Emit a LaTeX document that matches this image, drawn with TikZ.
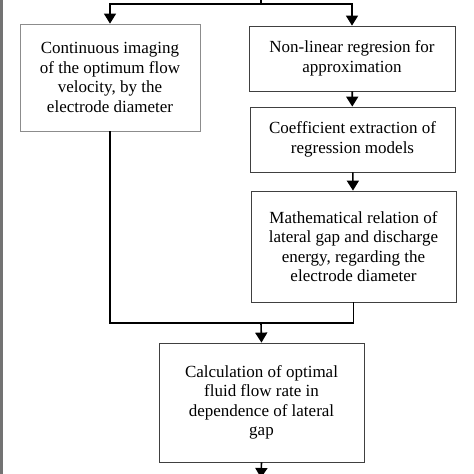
\documentclass[tikz,border=0pt]{standalone}
\usepackage{fontspec}
\setmainfont{Liberation Serif}
\usetikzlibrary{arrows.meta}

\begin{document}
\begin{tikzpicture}[x=1pt,y=-1pt,
		box/.style={draw=black!75,line width=0.8pt,align=center,inner sep=0pt,
			font=\fontsize{17}{19.5}\selectfont},
		flow/.style={line width=1.6pt,-{Triangle[width=12pt,length=10pt]}},
		link/.style={line width=1.6pt}]
		\useasboundingbox (0,0) rectangle (474,474);
		\fill[black!55] (0,0) rectangle (2.5,474); % 左边框
		% 方框
		\node[box,draw=black!45,minimum width=180,minimum height=107] (cont) at (110,77.5)
			{Continuous imaging\\of the optimum flow\\velocity, by the\\electrode diameter};
		\node[box,minimum width=206,minimum height=65] (reg) at (352,58.5)
			{Non-linear regresion for\\approximation};
		\node[box,minimum width=205,minimum height=65] (coef) at (352.5,139.5)
			{Coefficient extraction of\\regression models};
		\node[box,minimum width=205,minimum height=111] (math) at (353.5,246.5)
			{Mathematical relation of\\lateral gap and discharge\\energy, regarding the\\electrode diameter};
		\node[box,minimum width=205,minimum height=119] (calc) at (261.5,402.5)
			{Calculation of optimal\\fluid flow rate in\\dependence of lateral\\gap};
		% 连线
		\coordinate (in) at (261,-2);
		\coordinate (split) at (261,4);
		\coordinate (join) at (261,323);
		\coordinate (out) at (261,478);
		\draw[link] (in) -- (split);
		\draw[flow] (split) -| (cont.north);
		\draw[flow] (split) -| (reg.north);
		\draw[flow] (reg) -- (coef);
		\draw[flow] (coef) -- (math);
		\draw[link] (cont.south) |- (join);
		\draw[link] (math.south) |- (join);
		\draw[flow] (join) -- (calc.north);
		\draw[flow] (calc.south) -- (out);
	\end{tikzpicture}
\end{document}
